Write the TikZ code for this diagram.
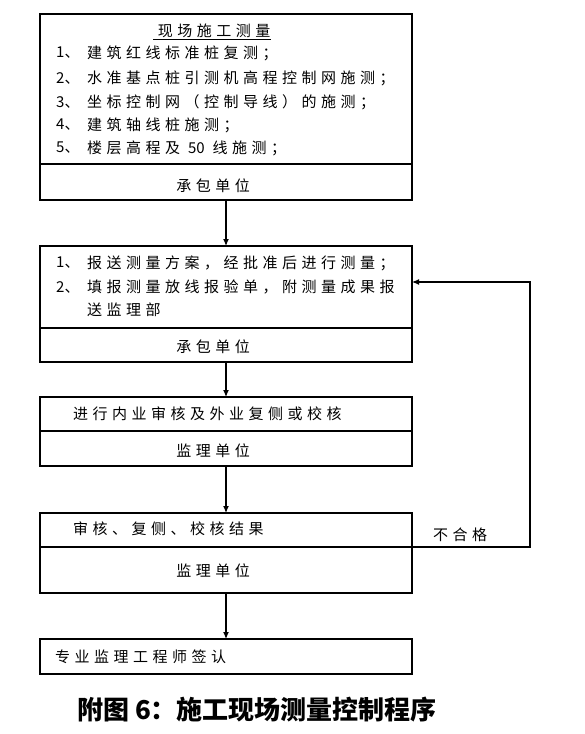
\documentclass[tikz,border=0pt]{standalone}
\usepackage{fontspec}
\setmainfont{Noto Sans CJK SC}[LetterSpace=30]
\newfontfamily\capfont{Noto Sans CJK SC}
\newfontfamily\tightfont{Noto Sans CJK SC}
\usetikzlibrary{arrows.meta,calc}
\newcommand{\tn}[1]{{\tightfont #1}}
\tikzset{
  box/.style={draw, line width=1.1pt, inner sep=0pt, outer sep=0pt, anchor=north west},
  txt/.style={anchor=west, inner sep=0pt, font=\fontsize{15}{17}\selectfont},
  ctxt/.style={anchor=center, inner sep=0pt, font=\fontsize{15}{17}\selectfont},
  arr/.style={line width=1.1pt, -{Latex[length=7pt,width=6pt]}},
  ln/.style={line width=1.1pt}
}
\begin{document}
\begin{tikzpicture}[x=1pt,y=-1pt]
\useasboundingbox (0,0) rectangle (585,734);
% box 1
\node[box, minimum width=372pt, minimum height=186pt] (b1) at (40,14) {};
\draw[ln] ($(b1.north west)+(0,150)$) coordinate (b1l) -- ($(b1.north east)+(0,150)$) coordinate (b1r);
\node[ctxt] (t1) at (214,31) {现场施工测量};
\coordinate (u1) at (153,39);
\coordinate (u2) at (271,39);
\draw[line width=1pt] (u1) -- (u2);
\node[txt] (n11) at (56,53) {\tn{1、}};
\node[txt] (i11) at (87,53) {建筑红线标准桩复测；};
\node[txt] (n12) at (56,78) {\tn{2、}};
\node[txt] (i12) at (87,78) {水准基点桩引测机高程控制网施测；};
\node[txt] (n13) at (56,102) {\tn{3、}};
\node[txt] (i13) at (87,102) {坐标控制网（控制导线）的施测；};
\node[txt] (n14) at (56,125) {\tn{4、}};
\node[txt] (i14) at (87,125) {建筑轴线桩施测；};
\node[txt] (n15) at (56,148) {\tn{5、}};
\node[txt] (i15) at (87,148) {楼层高程及 \tn{50} 线施测；};
\node[ctxt] (u1t) at (213,186) {承包单位};
% box 2
\node[box, minimum width=372pt, minimum height=116pt] (b2) at (40,246) {};
\draw[ln] ($(b2.north west)+(0,82)$) -- ($(b2.north east)+(0,82)$);
\node[txt] (n21) at (56,263) {\tn{1、}};
\node[txt] (i21) at (87,263) {报送测量方案，经批准后进行测量；};
\node[txt] (n22) at (56,287) {\tn{2、}};
\node[txt] (i22) at (87,287) {填报测量放线报验单，附测量成果报};
\node[txt] (i23) at (87,310) {送监理部};
\node[ctxt] (u2t) at (213,347) {承包单位};
% box 3
\node[box, minimum width=372pt, minimum height=69pt] (b3) at (40,397) {};
\draw[ln] ($(b3.north west)+(0,34)$) -- ($(b3.north east)+(0,34)$);
\node[txt] (i31) at (73,414) {进行内业审核及外业复侧或校核};
\node[ctxt] (u3t) at (213,451) {监理单位};
% box 4
\node[box, minimum width=372pt, minimum height=80pt] (b4) at (40,513) {};
\draw[ln] ($(b4.north west)+(0,34)$) coordinate (b4l) -- ($(b4.north east)+(0,34)$) coordinate (b4r);
\node[txt] (i41) at (73,529) {审核、复侧、校核结果};
\node[ctxt] (u4t) at (213,571) {监理单位};
% box 5
\node[box, minimum width=372pt, minimum height=35pt] (b5) at (40,639) {};
\node[txt] (i51) at (55,657) {专业监理工程师签认};
% arrows
\draw[arr] (b1.south) -- (b2.north);
\draw[arr] (b2.south) -- (b3.north);
\draw[arr] (b3.south) -- (b4.north);
\draw[arr] (b4.south) -- (b5.north);
\coordinate (c2) at ($(b2.north east)+(0,36)$);
\coordinate (corner) at (530,547);
\draw[arr] (b4r) -- (corner) |- (c2);
\node[txt] (ng) at (433,535) {不合格};
% caption
\node[anchor=center, inner sep=0pt, font=\capfont\bfseries\fontsize{26}{29}\selectfont] (cap) at (257,710) {附图 6：施工现场测量控制程序};
\end{tikzpicture}
\end{document}
